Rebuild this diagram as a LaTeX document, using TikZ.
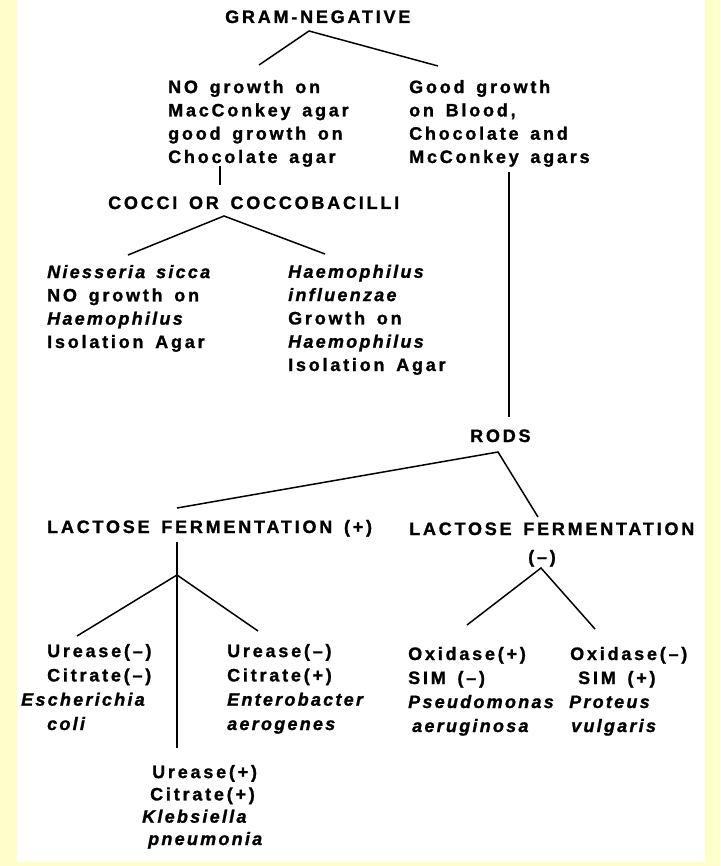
\documentclass[tikz,border=0pt]{standalone}
\usepackage{fontspec}
\setmainfont{Liberation Sans Bold}[LetterSpace=15.5,WordSpace=1.5,FakeBold=1.2,ItalicFont={Liberation Sans Bold Italic},ItalicFeatures={FakeBold=1.2,LetterSpace=12.5},BoldFont={Liberation Sans Bold}]
\begin{document}
\begin{tikzpicture}[x=1pt,y=-1pt,
  txt/.style={anchor=base west,inner sep=0pt,align=left,font=\fontsize{18}{23.3}\selectfont},
  link/.style={line width=1.5pt,black}]
\definecolor{bgyellow}{HTML}{FFFFCC}
\fill[bgyellow] (0,0) rectangle (720,866);
\fill[white] (17,0) rectangle (705,862);
\useasboundingbox (0,0) rectangle (720,866);
% text (anchor: baseline of the last line)
\node[txt] (gram) at (225,23) {GRAM-NEGATIVE};
\node[txt] (nogrowth) at (168,163) {NO growth on\\MacConkey agar\\good growth on\\Chocolate agar};
\node[txt] (good) at (409,163) {Good growth\\on Blood,\\Chocolate and\\McConkey agars};
\node[txt] (cocci) at (108,209) {COCCI OR COCCOBACILLI};
\node[txt] (nies) at (47,348) {\itshape Niesseria sicca\\NO growth on\\\itshape Haemophilus\\Isolation Agar};
\node[txt] (haem) at (288,371) {\itshape Haemophilus\\\itshape influenzae\\Growth on\\\itshape Haemophilus\\Isolation Agar};
\node[txt] (rods) at (470,442) {RODS};
\node[txt] (lacp) at (47,533) {LACTOSE FERMENTATION (+)};
\node[txt] (lacm) at (409,535) {LACTOSE FERMENTATION};
\node[txt,anchor=base] (lacmb) at (542,563) {(--)};
\node[txt,font=\fontsize{18}{24.3}\selectfont] (ecoli) at (21,730) {\hspace*{26pt}Urease(--)\\\hspace*{26pt}Citrate(--)\\\itshape Escherichia\\\hspace*{26pt}\itshape coli};
\node[txt,font=\fontsize{18}{24.3}\selectfont] (entero) at (227,730) {Urease(--)\\Citrate(+)\\\itshape Enterobacter\\\itshape aerogenes};
\node[txt,font=\fontsize{18}{22.3}\selectfont] (kleb) at (142,845) {\hspace*{10pt}Urease(+)\\\hspace*{8pt}Citrate(+)\\\itshape Klebsiella\\\hspace*{6pt}\itshape pneumonia};
\node[txt,font=\fontsize{18}{24}\selectfont] (pseudo) at (408,732) {Oxidase(+)\\SIM (--)\\\itshape Pseudomonas\\\hspace*{4pt}\itshape aeruginosa};
\node[txt,font=\fontsize{18}{24}\selectfont] (proteus) at (569,732) {\hspace*{1pt}Oxidase(--)\\\hspace*{9pt}SIM (+)\\\itshape Proteus\\\hspace*{2pt}\itshape vulgaris};
% connector points
\coordinate (ga) at (309,31);
\coordinate (gl) at (259,65);
\coordinate (gr) at (438,66);
\coordinate (n1) at (220,166);
\coordinate (n2) at (220,185);
\coordinate (b1) at (509,172);
\coordinate (b2) at (509,417);
\coordinate (ca) at (224,216);
\coordinate (cl) at (128,255);
\coordinate (cr) at (325,254);
\coordinate (ra) at (498,452);
\coordinate (rl) at (177,508);
\coordinate (rr) at (538,517);
\coordinate (p1) at (177,542);
\coordinate (pa) at (177,575);
\coordinate (p2) at (177,748);
\coordinate (pl) at (77,636);
\coordinate (pr) at (258,631);
\coordinate (ma) at (541,568);
\coordinate (ml) at (467,625);
\coordinate (mr) at (595,629);
% connectors
\draw[link] (gl) -- (ga) -- (gr);
\draw[link] (n1) -- (n2);
\draw[link] (b1) -- (b2);
\draw[link] (cl) -- (ca) -- (cr);
\draw[link] (rl) -- (ra) -- (rr);
\draw[link] (p1) -- (p2);
\draw[link] (pl) -- (pa) -- (pr);
\draw[link] (ml) -- (ma) -- (mr);
\end{tikzpicture}
\end{document}
